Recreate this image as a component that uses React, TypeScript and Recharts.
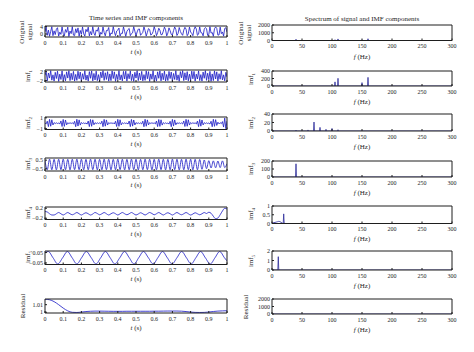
import React from "react";
import { LineChart, Line, XAxis, YAxis } from "recharts";

const SERIF = '"Liberation Serif", "DejaVu Serif", serif';
const INK = "#1e1e1e";
const BLUE = "#2424c8";
const NAVY = "#34349e";

const timeTicks = [0, 0.1, 0.2, 0.3, 0.4, 0.5, 0.6, 0.7, 0.8, 0.9, 1];
const freqTicks = [0, 50, 100, 150, 200, 250, 300];

// time series, evenly sampled over 0..1 s
const originalSignal = [
  1.2, 3.8, -0.7, 2.1, -1.2, 1.4, 3.9, -0.9, 1.7, -0.3,
  2.6, 3.4, -1.1, 1.0, -0.2, 3.8, 0.3, -1.0, 2.4, 0.9,
  3.7, -1.3, 1.6, 0.2, 3.9, -0.6, -0.9, 2.8, 0.7, 3.3,
  -1.2, 1.9, -0.2, 3.8, 0.1, -1.1, 2.5, 1.2, 3.7, -1.0,
  1.3, -0.5, 3.9, 0.5, -0.8, 2.2, 1.5, 3.6, -1.3, 0.9,
  -0.1, 3.8, 0.8, -1.0, 1.9, 1.8, 3.5, -1.2, 0.6, 0.1,
  3.9, 1.0, -0.9, 1.6, 2.1, 3.2, -1.1, 0.4, 0.3, 3.8,
  1.3, -1.2, 1.4, 2.4, 3.0, -0.9, 0.2, 0.6, 3.9, 1.5,
  -1.0, 1.1, 2.6, 2.7, -0.7, 0.1, 0.9, 3.8, 1.8, -1.1,
  0.9, 2.9, 2.4, -0.6, -0.1, 1.2, 3.9, 2.0, -0.9, 0.7,
  3.1, 2.1, -0.4, -0.3, 1.5, 3.7, 2.3, -1.0, 0.5, 3.3,
  1.8, -0.2, -0.5, 1.8, 3.8, 2.4, -0.8, 0.3, 3.5, 1.4,
  0.1, -0.7, 2.1, 3.6, 2.6, -0.9, 0.1, 3.7, 1.1, 0.3,
  -0.9, 2.4, 3.9, 2.7, -0.7, -0.1, 3.8, 0.8, 0.6, -1.0,
  2.6, 3.5, 2.9, -0.8, -0.3, 3.9, 0.5, 0.8, -1.2, 2.8,
  3.8, 3.0, -0.6, -0.5, 3.7, 0.2, 1.1, -1.1, 3.0, 3.4,
  1.0,
];

const imf1 = [
  0.3, 1.9, -2.1, 1.3, -0.9, 2.3, -1.8, 0.5, -2.2, 1.6,
  -1.1, 2.1, -2.3, 0.8, -1.5, 2.2, -1.9, 0.6, -2.1, 1.8,
  -0.9, 2.3, -2.0, 1.2, -1.6, 2.0, -2.2, 0.7, -1.9, 2.1,
  -1.2, 1.7, -2.3, 1.0, -1.4, 2.3, -1.8, 0.4, -2.2, 1.9,
  -1.0, 2.2, -2.1, 1.1, -1.7, 2.1, -2.0, 0.6, -2.3, 1.7,
  -0.8, 2.3, -1.9, 1.4, -1.5, 1.9, -2.2, 0.9, -2.0, 2.2,
  -1.1, 1.8, -2.3, 0.7, -1.6, 2.3, -1.7, 0.5, -2.1, 2.0,
  -1.3, 2.1, -2.2, 1.0, -1.2, 2.2, -2.0, 0.8, -2.3, 1.6,
  -0.9, 2.3, -2.0, 1.3, -1.7, 2.0, -2.1, 0.6, -1.9, 2.2,
  -1.2, 1.9, -2.3, 0.9, -1.4, 2.3, -1.9, 0.4, -2.2, 1.8,
  -1.0, 2.2, -2.1, 1.2, -1.6, 2.1, -2.2, 0.7, -2.0, 2.0,
  -1.1, 1.7, -2.3, 1.1, -1.5, 2.3, -1.8, 0.5, -2.3, 1.9,
  -0.8, 2.3, -2.0, 1.4, -1.7, 1.9, -2.1, 0.8, -1.9, 2.1,
  -1.2, 2.0, -2.2, 0.8, -1.3, 2.2, -2.0, 0.6, -2.2, 1.7,
  -1.0, 2.3, -1.9, 1.2, -1.6, 2.0, -2.3, 0.9, -2.0, 2.2,
  -1.3, 1.8, -2.2, 1.0, -1.4, 2.3, -1.7, 0.5, -2.1, 1.6,
  -0.4,
];

const imf2 = [
  0.05, -0.12, 0.38, -0.62, 0.72, -0.55, 0.64, -0.32, 0.12, -0.06, 0.08, -0.05,
  0.06, -0.15, 0.42, -0.6, 0.7, -0.58, 0.6, -0.3, 0.1, -0.07, 0.09, -0.04,
  0.07, -0.13, 0.36, -0.64, 0.73, -0.52, 0.62, -0.34, 0.13, -0.05, 0.07, -0.06,
  0.05, -0.16, 0.4, -0.61, 0.69, -0.56, 0.63, -0.29, 0.11, -0.08, 0.08, -0.05,
  0.06, -0.12, 0.39, -0.63, 0.71, -0.54, 0.61, -0.33, 0.12, -0.06, 0.09, -0.04,
  0.07, -0.14, 0.37, -0.6, 0.72, -0.57, 0.64, -0.31, 0.1, -0.07, 0.07, -0.05,
  0.05, -0.15, 0.41, -0.62, 0.7, -0.53, 0.6, -0.32, 0.13, -0.06, 0.08, -0.06,
  0.06, -0.13, 0.38, -0.64, 0.73, -0.55, 0.62, -0.3, 0.11, -0.05, 0.09, -0.04,
  0.07, -0.12, 0.4, -0.61, 0.69, -0.58, 0.63, -0.34, 0.12, -0.08, 0.07, -0.05,
  0.05, -0.16, 0.36, -0.63, 0.71, -0.52, 0.61, -0.29, 0.1, -0.06, 0.08, -0.06,
  0.06, -0.14, 0.42, -0.6, 0.72, -0.56, 0.64, -0.33, 0.13, -0.07, 0.09, -0.04,
  0.07, -0.13, 0.39, -0.62, 0.7, -0.54, 0.6, -0.31, 0.11, -0.05, 0.07, -0.05,
  0.05, -0.15, 0.37, -0.64, 0.73, -0.57, 0.66, -0.4, 0.2, -0.12, 0.1, -0.08,
  0.3, -0.7, 0.95, -1.0, 0.4,
];

const imf3 = [
  0.45, -0.6, 0.62, -0.61, 0.6, -0.62, 0.61, -0.6, 0.62, -0.61,
  0.6, -0.62, 0.61, -0.6, 0.62, -0.6, 0.61, -0.62, 0.6, -0.61,
  0.62, -0.6, 0.61, -0.62, 0.6, -0.61, 0.62, -0.6, 0.61, -0.62,
  0.6, -0.61, 0.62, -0.6, 0.61, -0.62, 0.6, -0.61, 0.62, -0.6,
  0.61, -0.62, 0.6, -0.61, 0.62, -0.6, 0.61, -0.62, 0.6, -0.61,
  0.62, -0.6, 0.61, -0.62, 0.6, -0.61, 0.62, -0.6, 0.61, -0.62,
  0.6, -0.61, 0.62, -0.6, 0.61, -0.62, 0.6, -0.61, 0.58, -0.55,
  0.52, -0.48, 0.44, -0.4, 0.42, -0.38, 0.4, -0.36, 0.42, -0.35,
  0.1,
];

const imf4 = [
  0.07, 0.05, -0.02, -0.07, -0.07, -0.02, 0.03, -0.02, -0.07, -0.02,
  0.03, -0.02, -0.06, -0.02, 0.03, -0.02, -0.07, -0.02, 0.02, -0.02,
  -0.07, -0.03, 0.03, -0.01, -0.06, -0.02, 0.03, -0.02, -0.07, -0.02,
  0.02, -0.02, -0.07, -0.02, 0.03, -0.02, -0.06, -0.02, 0.03, -0.02,
  -0.07, -0.03, 0.02, -0.02, -0.07, -0.02, 0.03, -0.01, -0.06, -0.02,
  0.03, -0.02, -0.07, -0.02, 0.02, -0.02, -0.07, -0.02, 0.03, -0.02,
  -0.06, -0.02, 0.03, -0.02, -0.07, -0.03, 0.02, -0.02, -0.06, -0.02,
  0.03, -0.01, 0.04, 0.0, -0.12, -0.22, -0.19, -0.06, 0.09, 0.2,
  0.17,
];

const imf5Time = [
  0, 0.018, 0.044, 0.07, 0.097, 0.123, 0.149, 0.175, 0.201, 0.227,
  0.254, 0.28, 0.306, 0.332, 0.358, 0.384, 0.411, 0.437, 0.463, 0.489,
  0.515, 0.541, 0.568, 0.594, 0.62, 0.646, 0.672, 0.698, 0.725, 0.751,
  0.777, 0.803, 0.829, 0.855, 0.881, 0.908, 0.934, 0.96, 0.986, 1,
];
const imf5 = [
  0.05, 0.06, 0, -0.06, 0, 0.06, 0, -0.06, 0, 0.06,
  0, -0.06, 0, 0.06, 0, -0.06, 0, 0.06, 0, -0.06,
  0, 0.06, 0, -0.06, 0, 0.06, 0, -0.06, 0, 0.06,
  0, -0.06, 0, 0.06, 0, -0.06, 0, 0.06, 0, -0.03,
];

const residual = [
  1.0172, 1.0165, 1.014, 1.01, 1.0055, 1.0018, 0.9999, 0.9997, 1.0002, 1.0009,
  1.0013, 1.0015, 1.0015, 1.0014, 1.0013, 1.0012, 1.0012, 1.0012, 1.0013, 1.0013,
  1.0013, 1.0013, 1.0013, 1.0013, 1.0014, 1.0014, 1.0015, 1.0016, 1.0016, 1.0016,
  1.0014, 1.0009, 1.0002, 0.9998, 0.9997, 0.9998, 1.0003, 1.001, 1.0015, 1.0018,
  1.002,
];

// spectra: peak frequencies (Hz) and magnitudes
const specOriginalFreq = [40, 70, 105, 110, 150, 160];
const specOriginalAmp = [160, 22, 100, 200, 85, 225];
const specImf1Freq = [105, 110, 150, 160];
const specImf1Amp = [110, 205, 90, 230];
const specImf2Freq = [40, 60, 70, 80, 90, 100, 110];
const specImf2Amp = [2, 2.5, 21, 8.5, 4, 6, 3];
const specImf3Freq = [40];
const specImf3Amp = [165];
const specImf4Freq = [0, 1.5, 3, 5, 7, 9, 11, 13, 15, 17, 18.7, 19.5, 20.3, 22, 300];
const specImf4Amp = [0.02, 0.04, 0.05, 0.06, 0.08, 0.1, 0.12, 0.11, 0.07, 0.02, 0.01, 0.55, 0.01, 0, 0];
const specImf5Freq = [10.5];
const specImf5Amp = [1.4];
const specResidualFreq: number[] = [];
const specResidualAmp: number[] = [];

type Pt = { x: number; y: number };

function sampled(values: number[], times?: number[]): Pt[] {
  return values.map((y, i) => ({ x: times ? times[i] : i / (values.length - 1), y }));
}

function spikes(freqs: number[], amps: number[]): Pt[] {
  const pts: Pt[] = [{ x: 0, y: 0 }];
  freqs.forEach((f, i) => {
    pts.push({ x: f - 0.8, y: 0 }, { x: f, y: amps[i] }, { x: f + 0.8, y: 0 });
  });
  pts.push({ x: 300, y: 0 });
  return pts;
}

const minus = (v: number) => String(v).replace("-", "\u2212");

type PanelProps = {
  left: number;
  top: number;
  bottom: number;
  w: number;
  axisW: number;
  data: Pt[];
  xDomain: [number, number];
  xTicks: number[];
  yDomain: [number, number];
  yTicks: number[];
  curve: "linear" | "monotone";
  color: string;
};

function Panel(p: PanelProps) {
  const h = p.bottom - p.top;
  const tickStyle = { fontSize: 6, fontFamily: SERIF, fill: INK };
  return (
    <div style={{ position: "absolute", left: p.left - p.axisW, top: p.top - 3 }}>
      <LineChart
        width={p.axisW + p.w + 11}
        height={h + 3 + 16}
        data={p.data}
        margin={{ top: 2, right: 10, bottom: 0, left: 0 }}
      >
        <XAxis dataKey="x" type="number" domain={p.xDomain} ticks={p.xTicks} interval={0}
          height={16} tickSize={-2} tickMargin={5.5} tick={tickStyle} stroke={INK} allowDataOverflow />
        <XAxis xAxisId="top" orientation="top" type="number" domain={p.xDomain} ticks={p.xTicks}
          interval={0} height={1} tickSize={-2} tick={false} stroke={INK} />
        <YAxis type="number" domain={p.yDomain} ticks={p.yTicks} interval={0} width={p.axisW}
          tickSize={-2} tickMargin={4} tick={tickStyle} tickFormatter={minus} stroke={INK} allowDataOverflow />
        <YAxis yAxisId="right" orientation="right" type="number" domain={p.yDomain} ticks={p.yTicks}
          interval={0} width={1} tickSize={-2} tick={false} stroke={INK} />
        <Line dataKey="y" type={p.curve} stroke={p.color} strokeWidth={0.85} dot={false} isAnimationActive={false} />
      </LineChart>
    </div>
  );
}

function Text({ x, y, size = 7, rotate = false, children }: { x: number; y: number; size?: number; rotate?: boolean; children: React.ReactNode }) {
  return (
    <div
      style={{
        position: "absolute", left: x, top: y,
        transform: `translate(-50%, -50%)${rotate ? " rotate(-90deg)" : ""}`,
        fontFamily: SERIF, fontSize: size, lineHeight: `${size + 0.5}px`,
        color: INK, whiteSpace: "nowrap", textAlign: "center",
      }}
    >
      {children}
    </div>
  );
}

const Imf = ({ n }: { n: number }) => (
  <span>imf<span style={{ fontSize: 5, position: "relative", top: 2 }}>{n}</span></span>
);

const leftFrames = [[26, 37], [70, 82], [116.5, 129], [157.5, 170.5], [207, 219.5], [250.5, 264], [299, 313]];
const rightFrames = [[25, 40.5], [71, 86], [114, 131], [160.5, 176.5], [205.5, 223], [251, 270], [299, 314]];

export default function App() {
  const timeRows = [
    { data: sampled(originalSignal), domain: [-1.6, 4.3], ticks: [0, 4], curve: "linear" },
    { data: sampled(imf1), domain: [-2.6, 2.6], ticks: [-2, 2], curve: "linear" },
    { data: sampled(imf2), domain: [-1.15, 1.15], ticks: [-1, 1], curve: "linear" },
    { data: sampled(imf3), domain: [-0.75, 0.75], ticks: [-0.5, 0.5], curve: "monotone" },
    { data: sampled(imf4), domain: [-0.25, 0.25], ticks: [-0.2, 0.2], curve: "monotone" },
    { data: sampled(imf5, imf5Time), domain: [-0.065, 0.065], ticks: [-0.05, 0.05], curve: "monotone" },
    { data: sampled(residual), domain: [0.999, 1.0175], ticks: [1, 1.01], curve: "monotone" },
  ];
  const specRows = [
    { data: spikes(specOriginalFreq, specOriginalAmp), domain: [0, 2000], ticks: [0, 1000, 2000] },
    { data: spikes(specImf1Freq, specImf1Amp), domain: [0, 400], ticks: [0, 200, 400] },
    { data: spikes(specImf2Freq, specImf2Amp), domain: [0, 40], ticks: [0, 20, 40] },
    { data: spikes(specImf3Freq, specImf3Amp), domain: [0, 200], ticks: [0, 100, 200] },
    { data: sampled(specImf4Amp, specImf4Freq), domain: [0, 1], ticks: [0, 0.5, 1] },
    { data: spikes(specImf5Freq, specImf5Amp), domain: [0, 2], ticks: [0, 1, 2] },
    { data: spikes(specResidualFreq, specResidualAmp), domain: [0, 2000], ticks: [0, 1000, 2000] },
  ];
  const labels: { left: number; right: number; node: React.ReactNode }[] = [
    { left: 26, right: 245, node: <>Original<br />signal</> },
    { left: 29, right: 252, node: <Imf n={1} /> },
    { left: 29, right: 252, node: <Imf n={2} /> },
    { left: 29, right: 252, node: <Imf n={3} /> },
    { left: 29, right: 252, node: <Imf n={4} /> },
    { left: 29, right: 252, node: <Imf n={5} /> },
    { left: 23.5, right: 246.5, node: <>Residual</> },
  ];

  return (
    <div style={{ position: "absolute", left: 0, top: 0, width: 474, height: 352, background: "#fff", overflow: "hidden" }}>
      <Text x={136} y={19}>Time series and IMF components</Text>
      <Text x={362} y={19.5}>Spectrum of signal and IMF components</Text>
      {timeRows.map((r, i) => {
        const [t, b] = leftFrames[i];
        return (
          <React.Fragment key={`t${i}`}>
            <Panel left={45} top={t} bottom={b} w={182} axisW={45} data={r.data}
              xDomain={[0, 1]} xTicks={timeTicks} yDomain={r.domain as [number, number]}
              yTicks={r.ticks} curve={r.curve as "linear" | "monotone"} color={BLUE} />
            <Text x={136} y={b + 15.5}><i>t</i> (s)</Text>
            <Text x={labels[i].left} y={(t + b) / 2} rotate>{labels[i].node}</Text>
          </React.Fragment>
        );
      })}
      {specRows.map((r, i) => {
        const [t, b] = rightFrames[i];
        return (
          <React.Fragment key={`s${i}`}>
            <Panel left={272} top={t} bottom={b} w={180} axisW={32} data={r.data}
              xDomain={[0, 300]} xTicks={freqTicks} yDomain={r.domain as [number, number]}
              yTicks={r.ticks} curve="linear" color={NAVY} />
            <Text x={362} y={b + 17}><i>f</i> (Hz)</Text>
            <Text x={labels[i].right} y={(t + b) / 2} rotate>{labels[i].node}</Text>
          </React.Fragment>
        );
      })}
    </div>
  );
}
